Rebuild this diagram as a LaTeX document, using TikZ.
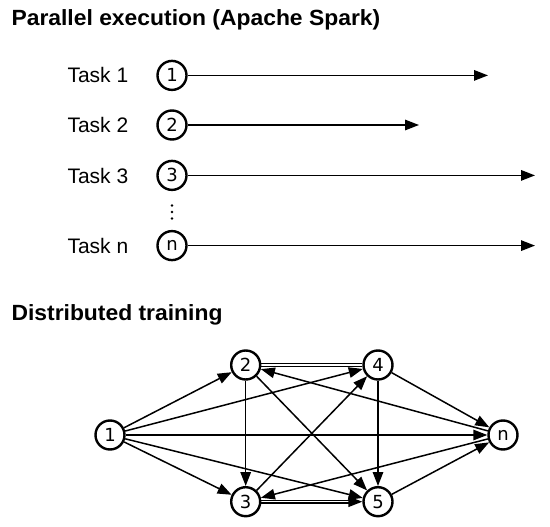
\documentclass[tikz,border=0pt]{standalone}
\usepackage{fontspec}
\setmainfont{Liberation Sans}
\newfontfamily\numfont{DejaVu Sans}
\usetikzlibrary{arrows.meta}
\begin{document}
\begin{tikzpicture}[x=1pt,y=-1pt,
  circ/.style={circle, draw, line width=2.4pt, minimum size=29pt, inner sep=0pt, fill=white,
    font=\numfont\fontsize{18}{18}\selectfont},
  edge/.style={line width=1.5pt, -{Triangle[length=14pt,width=10.5pt]}},
  plain/.style={line width=1.4pt},
  task/.style={anchor=base west, font=\fontsize{21}{23}\selectfont},
  ttl/.style={anchor=base west, font=\fontsize{22}{24}\selectfont\bfseries}]
\path[use as bounding box, fill=white] (0,0) rectangle (550,527);
% titles
\node[ttl] (title1) at (8,26) {\scalebox{1.04}[1]{Parallel execution (Apache Spark)}};
\node[ttl] (title2) at (8,320) {\scalebox{1.04}[1]{Distributed training}};
% tasks
\node[task] (l1) at (64,83) {Task 1};
\node[task] (l2) at (64,132.6) {Task 2};
\node[task] (l3) at (64,183) {Task 3};
\node[task] (ln) at (64,253.2) {Task n};
\node[circ] (t1) at (172,75.4) {1};
\node[circ] (t2) at (172,125) {2};
\node[circ] (t3) at (172,175.4) {3};
\node[circ] (tn) at (172,245.6) {n};
\coordinate (e1) at (488,75.4);
\coordinate (e2) at (419,125);
\coordinate (e3) at (535,175.4);
\coordinate (en) at (535,245.6);
\draw[edge] (t1) -- (e1);
\draw[edge] (t2) -- (e2);
\draw[edge] (t3) -- (e3);
\draw[edge] (tn) -- (en);
\foreach \yy in {205.5,212,218.5} \fill (172,\yy) circle (1.3pt);
% graph
\node[circ] (g1) at (110,435) {1};
\node[circ] (g2) at (245.7,365) {2};
\node[circ] (g4) at (378,365) {4};
\node[circ] (g3) at (245.7,501.7) {3};
\node[circ] (g5) at (378,501.7) {5};
\node[circ] (gn) at (503,435) {n};
\draw[edge] (g1) -- (g2);
\draw[edge] (g1) -- (g4);
\draw[edge] (g1) -- (gn);
\draw[edge] (g1) -- (g3);
\draw[edge] (g1) -- (g5);
\draw[edge] (g2) -- (g3);
\draw[edge] (g2) -- (g5);
\draw[plain] ([yshift=1.4pt]g2.east) -- ([yshift=1.4pt]g4.west);
\draw[plain] ([yshift=-1.4pt]g2.east) -- ([yshift=-1.4pt]g4.west);
\draw[edge] (g3) -- (g4);
\draw[edge] (g4) -- (g5);
\draw[edge] (g4) -- (gn);
\draw[edge] (gn) -- (g2);
\draw[edge] (gn) -- (g3);
\draw[plain] ([yshift=1.4pt]g3.east) -- ([yshift=1.4pt,xshift=-10pt]g5.west);
\draw[plain] ([yshift=-1.4pt]g3.east) -- ([yshift=-1.4pt,xshift=-10pt]g5.west);
\draw[edge, shorten <=95pt] (g3) -- (g5);
\draw[edge] (g5) -- (gn);
\end{tikzpicture}
\end{document}
